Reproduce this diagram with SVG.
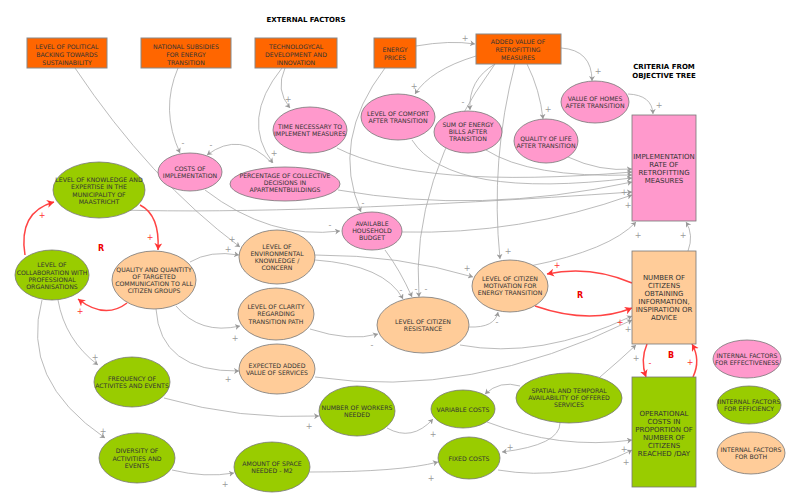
<svg xmlns="http://www.w3.org/2000/svg" width="800" height="502" viewBox="0 0 800 502">
<defs>
<marker id="a" markerWidth="6" markerHeight="6" refX="5" refY="3" orient="auto" markerUnits="userSpaceOnUse"><path d="M0,0 L5,3 L0,6 L1.5,3 Z" fill="#999"/></marker>
<marker id="r" markerWidth="8" markerHeight="8" refX="7" refY="4" orient="auto" markerUnits="userSpaceOnUse"><path d="M0,0 L7,4 L0,8 L2,4 Z" fill="#f33"/></marker>
</defs>
<style>
text{font-family:"DejaVu Sans",Verdana,sans-serif;font-size:6.2px;fill:#333;text-anchor:middle}
.t{font-weight:bold;fill:#000;font-size:7px}
.s{font-size:8px;fill:#999}
.rs{font-size:8px;fill:#f33}
.R{font-size:8px;fill:#e00;font-weight:bold}
.o{fill:#FF6600;stroke:#888;stroke-width:1}
.p{fill:#FF99CC;stroke:#777;stroke-width:0.8}
.c{fill:#FFCC99;stroke:#777;stroke-width:0.8}
.g{fill:#99CC00;stroke:#777;stroke-width:0.8}
#connectors path{fill:none;stroke:#aaa;stroke-width:0.8;marker-end:url(#a)}
#connectors path.red{stroke:#f44;stroke-width:1.5;marker-end:url(#r)}
</style>
<rect width="800" height="502" fill="#fff"/>
<text class="t" x="306" y="22">EXTERNAL FACTORS</text>
<text class="t" x="664" y="69">CRITERIA FROM</text>
<text class="t" x="664" y="78">OBJECTIVE TREE</text>

<g id="connectors">
<path d="M75,68 Q150,180 240,247"/>
<path d="M178,68 Q160,110 180,153"/>
<path d="M285,68 Q275,90 290,108"/>
<path d="M282,68 Q240,120 273,163"/>
<path d="M272,163 Q240,130 207,155"/>
<path d="M416,46 Q450,40 475,44"/>
<path d="M385,68 Q330,140 361,212"/>
<path d="M476,56 Q430,70 415,94"/>
<path d="M495,64 Q468,80 470,110"/>
<path d="M527,64 Q540,90 543,119"/>
<path d="M561,48 Q592,50 592,81"/>
<path d="M515,64 Q490,160 500,259"/>
<path d="M495,64 Q410,180 419,297"/>
<path d="M628,94 Q652,95 653,114"/>
<path d="M337,148 Q420,190 632,172"/>
<path d="M412,140 Q450,200 632,178"/>
<path d="M486,150 Q530,178 632,175"/>
<path d="M568,157 Q600,172 632,169"/>
<path d="M338,190 Q480,215 632,182"/>
<path d="M205,190 Q270,240 340,231"/>
<path d="M402,232 Q520,235 632,195"/>
<path d="M120,210 Q300,215 632,192"/>
<path d="M530,266 Q610,250 636,222"/>
<path d="M688,251 Q694,235 686,222"/>
<path d="M58,300 Q65,340 98,365"/>
<path d="M42,300 Q20,380 105,438"/>
<path d="M190,262 Q210,250 239,255"/>
<path d="M176,306 Q200,335 240,326"/>
<path d="M156,309 Q160,372 239,371"/>
<path d="M315,255 Q400,255 473,277"/>
<path d="M315,260 Q385,265 403,299"/>
<path d="M310,329 Q350,342 378,334"/>
<path d="M315,377 Q470,400 632,320"/>
<path d="M469,327 Q495,328 498,312"/>
<path d="M460,345 Q540,360 632,316"/>
<path d="M385,250 Q400,270 412,297"/>
<path d="M164,398 Q240,420 319,416"/>
<path d="M172,470 Q205,478 234,473"/>
<path d="M387,428 Q412,442 433,419"/>
<path d="M310,472 Q400,472 438,462"/>
<path d="M520,386 Q500,380 485,394"/>
<path d="M560,423 Q560,445 502,452"/>
<path d="M600,377 Q620,360 636,345"/>
<path d="M487,422 Q560,450 632,440"/>
<path d="M498,470 Q570,482 632,450"/>
<path class="red" d="M140,205 Q160,215 158,250"/>
<path class="red" d="M25,255 Q18,212 54,202"/>
<path class="red" d="M127,303 Q105,320 78,299"/>
<path class="red" d="M632,283 Q590,265 547,274"/>
<path class="red" d="M535,306 Q590,325 632,308"/>
<path class="red" d="M647,344 Q640,360 646,377"/>
<path class="red" d="M693,377 Q701,360 692,344"/>
</g>

<g id="signs">
<text class="s" x="232" y="242">+</text><text class="s" x="183" y="146">-</text>
<text class="s" x="288" y="102">+</text><text class="s" x="274" y="156">+</text>
<text class="s" x="211" y="148">-</text><text class="s" x="465" y="41">+</text>
<text class="s" x="363" y="206">-</text><text class="s" x="414" y="89">+</text>
<text class="s" x="463" y="105">-</text><text class="s" x="548" y="112">+</text>
<text class="s" x="598" y="74">+</text><text class="s" x="659" y="108">+</text>
<text class="s" x="508" y="254">+</text><text class="s" x="426" y="292">-</text>
<text class="s" x="330" y="228">-</text><text class="s" x="628" y="208">+</text>
<text class="s" x="624" y="195">+</text><text class="s" x="638" y="238">+</text>
<text class="s" x="683" y="238">+</text><text class="s" x="95" y="360">+</text>
<text class="s" x="103" y="434">+</text><text class="s" x="228" y="252">+</text>
<text class="s" x="235" y="341">+</text><text class="s" x="228" y="382">+</text>
<text class="s" x="467" y="271">+</text><text class="s" x="401" y="293">-</text>
<text class="s" x="372" y="348">-</text><text class="s" x="628" y="332">+</text>
<text class="s" x="497" y="325">-</text><text class="s" x="416" y="292">-</text>
<text class="s" x="309" y="429">+</text><text class="s" x="225" y="487">+</text>
<text class="s" x="433" y="437">+</text><text class="s" x="431" y="481">+</text>
<text class="s" x="510" y="450">+</text><text class="s" x="636" y="361">+</text>
<text class="s" x="624" y="452">+</text><text class="s" x="626" y="465">+</text>
<text class="rs" x="150" y="240">+</text><text class="rs" x="42" y="218">+</text>
<text class="rs" x="80" y="314">+</text><text class="rs" x="557" y="268">+</text>
<text class="rs" x="620" y="325">+</text><text class="rs" x="650" y="366">-</text>
<text class="rs" x="690" y="365">+</text>
<text class="R" x="101" y="251">R</text><text class="R" x="580" y="298">R</text>
<text class="R" x="671" y="358">B</text>
</g>

<g id="political"><rect class="o" x="27" y="38" width="80" height="30"/><text x="67" y="49">LEVEL OF POLITICAL</text><text x="67" y="57">BACKING TOWARDS</text><text x="67" y="65">SUSTAINABILITY</text></g>
<g id="subsidies"><rect class="o" x="141" y="38" width="90" height="30"/><text x="186" y="49">NATIONAL SUBSIDIES</text><text x="186" y="57">FOR ENERGY</text><text x="186" y="65">TRANSITION</text></g>
<g id="tech"><rect class="o" x="255" y="38" width="82" height="30"/><text x="296" y="49">TECHNOLOGYCAL</text><text x="296" y="57">DEVELOPMENT AND</text><text x="296" y="65">INNOVATION</text></g>
<g id="energy"><rect class="o" x="374" y="38" width="42" height="30"/><text x="395" y="52">ENERGY</text><text x="395" y="60">PRICES</text></g>
<g id="addedvalue"><rect class="o" x="476" y="34" width="85" height="30"/><text x="518" y="44">ADDED VALUE OF</text><text x="518" y="52">RETROFITTING</text><text x="518" y="60">MEASURES</text></g>

<g id="time"><ellipse class="p" cx="310" cy="130" rx="37" ry="23"/><text x="310" y="129">TIME NECESSARY TO</text><text x="310" y="136">IMPLEMENT MEASURES</text></g>
<g id="comfort"><ellipse class="p" cx="398" cy="117" rx="37" ry="23"/><text x="398" y="116">LEVEL OF COMFORT</text><text x="398" y="123">AFTER TRANSITION</text></g>
<g id="bills"><ellipse class="p" cx="468" cy="132" rx="34" ry="21"/><text x="468" y="127">SUM OF ENERGY</text><text x="468" y="134">BILLS AFTER</text><text x="468" y="141">TRANSITION</text></g>
<g id="quality"><ellipse class="p" cx="546" cy="141" rx="32" ry="22"/><text x="546" y="141">QUALITY OF LIFE</text><text x="546" y="148">AFTER TRANSITION</text></g>
<g id="homes"><ellipse class="p" cx="595" cy="102" rx="34" ry="21"/><text x="595" y="101">VALUE OF HOMES</text><text x="595" y="108">AFTER TRANSITION</text></g>
<g id="costs"><ellipse class="p" cx="190" cy="172" rx="32" ry="19"/><text x="190" y="171">COSTS OF</text><text x="190" y="178">IMPLEMENTATION</text></g>
<g id="percentage"><ellipse class="p" cx="285" cy="184" rx="55" ry="17"/><text x="285" y="178">PERCENTAGE OF COLLECTIVE</text><text x="285" y="185">DECISIONS IN</text><text x="285" y="192">APARTMENTBUILDINGS</text></g>
<g id="budget"><ellipse class="p" cx="372" cy="231" rx="30" ry="19"/><text x="372" y="226">AVAILABLE</text><text x="372" y="233">HOUSEHOLD</text><text x="372" y="240">BUDGET</text></g>
<g id="implrate"><rect class="p" x="632" y="115" width="64" height="106"/><text x="664" y="159" style="font-size:7px">IMPLEMENTATION</text><text x="664" y="167" style="font-size:7px">RATE OF</text><text x="664" y="175" style="font-size:7px">RETROFITTING</text><text x="664" y="183" style="font-size:7px">MEASURES</text></g>

<g id="knowledge"><ellipse class="g" cx="99" cy="190" rx="46" ry="28"/><text x="99" y="182">LEVEL OF KNOWLEDGE AND</text><text x="99" y="189">EXPERTISE IN THE</text><text x="99" y="197">MUNICIPALITY OF</text><text x="99" y="204">MAASTRICHT</text></g>
<g id="collab"><ellipse class="g" cx="52" cy="275" rx="37" ry="25"/><text x="52" y="267">LEVEL OF</text><text x="52" y="275">COLLABORATION WITH</text><text x="52" y="282">PROFESSIONAL</text><text x="52" y="289">ORGANISATIONS</text></g>
<g id="communication"><ellipse class="c" cx="154" cy="280" rx="42" ry="29"/><text x="154" y="272">QUALITY AND QUANTITY</text><text x="154" y="279">OF TARGETED</text><text x="154" y="286">COMMUNICATION TO ALL</text><text x="154" y="293">CITIZEN GROUPS</text></g>
<g id="envknow"><ellipse class="c" cx="277" cy="257" rx="38" ry="27"/><text x="277" y="249">LEVEL OF</text><text x="277" y="256">ENVIRONMENTAL</text><text x="277" y="263">KNOWLEDGE /</text><text x="277" y="270">CONCERN</text></g>
<g id="clarity"><ellipse class="c" cx="276" cy="314" rx="38" ry="26"/><text x="276" y="309">LEVEL OF CLARITY</text><text x="276" y="316">REGARDING</text><text x="276" y="324">TRANSITION PATH</text></g>
<g id="expected"><ellipse class="c" cx="277" cy="369" rx="38" ry="25"/><text x="277" y="368">EXPECTED ADDED</text><text x="277" y="375">VALUE OF SERVICES</text></g>
<g id="resistance"><ellipse class="c" cx="423" cy="325" rx="46" ry="28"/><text x="423" y="324">LEVEL OF CITIZEN</text><text x="423" y="331">RESISTANCE</text></g>
<g id="motivation"><ellipse class="c" cx="510" cy="286" rx="38" ry="26"/><text x="510" y="281">LEVEL OF CITIZEN</text><text x="510" y="288">MOTIVATION FOR</text><text x="510" y="295">ENERGY TRANSITION</text></g>
<g id="citizens"><rect class="c" x="632" y="251" width="64" height="93"/><text x="664" y="280" style="font-size:7px">NUMBER OF</text><text x="664" y="288" style="font-size:7px">CITIZENS</text><text x="664" y="296" style="font-size:7px">OBTAINING</text><text x="664" y="304" style="font-size:7px">INFORMATION,</text><text x="664" y="312" style="font-size:7px">INSPIRATION OR</text><text x="664" y="320" style="font-size:7px">ADVICE</text></g>
<g id="opcosts"><rect class="g" x="632" y="377" width="64" height="110"/><text x="664" y="416" style="font-size:7px">OPERATIONAL</text><text x="664" y="424" style="font-size:7px">COSTS IN</text><text x="664" y="432" style="font-size:7px">PROPORTION OF</text><text x="664" y="440" style="font-size:7px">NUMBER OF</text><text x="664" y="448" style="font-size:7px">CITIZENS</text><text x="664" y="456" style="font-size:7px">REACHED /DAY</text></g>

<g id="frequency"><ellipse class="g" cx="132" cy="382" rx="38" ry="25"/><text x="132" y="381">FREQUENCY OF</text><text x="132" y="388">ACTIVITES AND EVENTS</text></g>
<g id="diversity"><ellipse class="g" cx="137" cy="458" rx="38" ry="25"/><text x="137" y="453">DIVERSITY OF</text><text x="137" y="461">ACTIVITIES AND</text><text x="137" y="468">EVENTS</text></g>
<g id="workers"><ellipse class="g" cx="357" cy="411" rx="38" ry="25"/><text x="357" y="410">NUMBER OF WORKERS</text><text x="357" y="417">NEEDED</text></g>
<g id="space"><ellipse class="g" cx="272" cy="467" rx="38" ry="25"/><text x="272" y="466">AMOUNT OF SPACE</text><text x="272" y="473">NEEDED - M2</text></g>
<g id="variable"><ellipse class="g" cx="463" cy="409" rx="32" ry="19"/><text x="463" y="412">VARIABLE COSTS</text></g>
<g id="fixed"><ellipse class="g" cx="469" cy="458" rx="31" ry="21"/><text x="469" y="461">FIXED COSTS</text></g>
<g id="spatial"><ellipse class="g" cx="569" cy="398" rx="53" ry="25"/><text x="569" y="393">SPATIAL AND TEMPORAL</text><text x="569" y="400">AVAILABILITY OF OFFERED</text><text x="569" y="407">SERVICES</text></g>

<g id="legend-effectiveness"><ellipse class="p" cx="747" cy="359" rx="34" ry="19"/><text x="747" y="358">INTERNAL FACTORS</text><text x="747" y="365">FOR EFFECTIVENESS</text></g>
<g id="legend-efficiency"><ellipse class="g" cx="749" cy="405" rx="32" ry="19"/><text x="749" y="404">IINTERNAL FACTORS</text><text x="749" y="411">FOR EFFICIENCY</text></g>
<g id="legend-both"><ellipse class="c" cx="751" cy="453" rx="34" ry="21"/><text x="751" y="452">INTERNAL FACTORS</text><text x="751" y="459">FOR BOTH</text></g>
</svg>
